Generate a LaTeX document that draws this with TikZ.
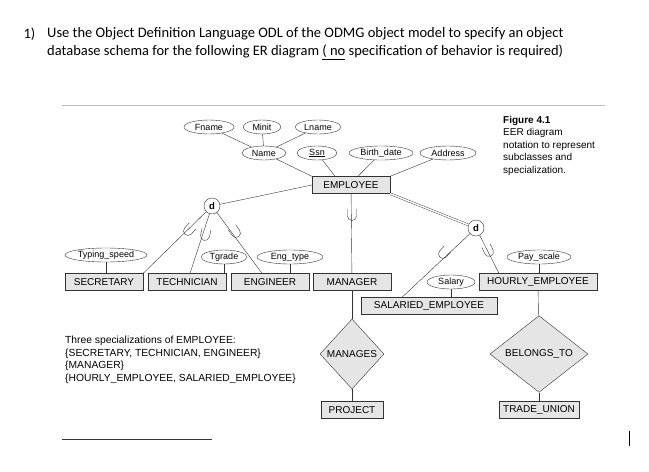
\documentclass[tikz,border=0pt]{standalone}
\usepackage{fontspec}
\setmainfont{Liberation Sans}
\newfontfamily\hdfont{Carlito}
\usetikzlibrary{shapes.geometric}
\tikzset{
  entity/.style={rectangle, draw=black!80, fill=black!10, minimum height=17pt, inner sep=1pt, font=\fontsize{10}{11}\selectfont},
  attr/.style={ellipse, draw=black!80, fill=white, minimum height=14pt, inner xsep=1pt, inner ysep=0pt, font=\fontsize{9}{10}\selectfont},
  rel/.style={diamond, draw=black!80, fill=black!10, inner sep=0pt, font=\fontsize{10}{11}\selectfont},
  disj/.style={circle, draw=black!80, fill=white, minimum size=16pt, inner sep=0pt, font=\fontsize{9.5}{10}\selectfont\bfseries},
  link/.style={draw=black!80, thin},
  pics/subsetmark/.style={code={\draw[black!80] (-4.5,-7) -- (-4.5,0) arc(180:0:4.5) -- (4.5,-7);}}
}
\begin{document}
\begin{tikzpicture}[x=1pt,y=-1pt]
\useasboundingbox (0,0) rectangle (649,472);
% question
\node[anchor=west, font=\hdfont\fontsize{14.5}{17}\selectfont] (qnum) at (20,34) {1)};
\node[anchor=west, font=\hdfont\fontsize{14.5}{17}\selectfont, align=left, inner sep=0pt] (qtext) at (47,43.5)
  {Use the Object Definition Language ODL of the ODMG object model to specify an object\\[1pt]
   database schema for the following ER diagram \underline{( no} specification of behavior is required)};
\draw[black!25] (62,105) -- (605,105);
% attributes
\node[attr, minimum width=50pt] (fname) at (209,127) {Fname};
\node[attr, minimum width=38pt] (minit) at (262,127) {Minit};
\node[attr, minimum width=46pt] (lname) at (318,127) {Lname};
\node[attr, minimum width=44pt] (name) at (264,153) {Name};
\node[attr, minimum width=40pt] (ssn) at (317,153) {\underline{Ssn}};
\node[attr, minimum width=64pt] (bdate) at (381,153) {Birth\_date};
\node[attr, minimum width=56pt] (addr) at (448,153) {Address};
\node[entity, minimum width=78pt] (emp) at (351,185) {EMPLOYEE};
% figure caption
\node[anchor=north west, align=left, font=\fontsize{10}{12.5}\selectfont, inner sep=0pt] (cap) at (503,116)
  {\textbf{Figure 4.1}\\EER diagram\\notation to represent\\subclasses and\\specialization.};
% subclasses
\node[disj] (d1) at (212,206) {d};
\node[disj] (d2) at (476,228) {d};
\node[entity, minimum width=78pt] (sec) at (104,282) {SECRETARY};
\node[entity, minimum width=78pt] (tech) at (187,282) {TECHNICIAN};
\node[entity, minimum width=78pt] (eng) at (270,282) {ENGINEER};
\node[entity, minimum width=78pt] (mgr) at (352,282) {MANAGER};
\node[entity, minimum width=118pt] (hourly) at (538,282) {HOURLY\_EMPLOYEE};
\node[entity, minimum width=136pt] (salaried) at (429,306) {SALARIED\_EMPLOYEE};
\node[attr, minimum width=80pt] (typing) at (106,255) {Typing\_speed};
\node[attr, minimum width=46pt] (tgrade) at (224,257) {Tgrade};
\node[attr, minimum width=66pt] (engtype) at (290,257) {Eng\_type};
\node[attr, minimum width=64pt] (payscale) at (539,257) {Pay\_scale};
\node[attr, minimum width=48pt] (salary) at (451,282) {Salary};
% relationships
\node[rel, minimum width=64pt, minimum height=70pt] (manages) at (352,354) {MANAGES};
\node[rel, minimum width=98pt, minimum height=70pt] (belongs) at (539,354) {BELONGS\_TO};
\node[entity, minimum width=62pt] (proj) at (352,410) {PROJECT};
\node[entity, minimum width=80pt] (union) at (539,410) {TRADE\_UNION};
% note
\node[anchor=north west, align=left, font=\fontsize{10.3}{12.5}\selectfont, inner sep=0pt] (note) at (65,336)
  {Three specializations of EMPLOYEE:\\\{SECRETARY, TECHNICIAN, ENGINEER\}\\\{MANAGER\}\\\{HOURLY\_EMPLOYEE, SALARIED\_EMPLOYEE\}};
% links
\draw[link] (fname) -- (name);
\draw[link] (minit) -- (name);
\draw[link] (lname) -- (name);
\draw[link] (name) -- (emp.north west);
\draw[link] (ssn) -- (emp.north -| 335,0);
\draw[link] (bdate) -- (emp.north -| 358,0);
\draw[link] (addr) -- (emp.north east);
\draw[link] (emp.west) -- (d1);
\draw[link] (d1) -- (sec.north east);
\draw[link] (d1) -- (tech.north -| 190,0);
\draw[link] (d1) -- (eng.north -| 262,0);
\draw[link] (typing) -- (typing |- sec.north);
\draw[link] (tgrade) -- (tgrade |- tech.north);
\draw[link] (engtype) -- (engtype |- eng.north);
\draw[link] (emp) -- (mgr);
\draw[link, double, double distance=1.5pt] (emp.south east) -- (d2);
\draw[link] (d2) -- (salaried.north -| 402,0);
\draw[link] (d2) -- (hourly.north -| 499,0);
\draw[link] (payscale) -- (payscale |- hourly.north);
\draw[link] (salary) -- (salary |- salaried.north);
\draw[link] (mgr) -- (manages);
\draw[link] (manages) -- (proj);
\draw[link] (hourly) -- (belongs);
\draw[link] (belongs) -- (union);
% subset marks
\pic[rotate=-42] at (188,231) {subsetmark};
\pic[rotate=-12] at (205,236) {subsetmark};
\pic[rotate=35] at (236,233) {subsetmark};
\pic at (352,216) {subsetmark};
\pic[rotate=-42] at (443,254) {subsetmark};
\pic[rotate=25] at (489,252) {subsetmark};
% footer
\draw[black!80] (62,439) -- (212,439);
\draw[black] (629,431) -- (629,446);
\end{tikzpicture}
\end{document}
